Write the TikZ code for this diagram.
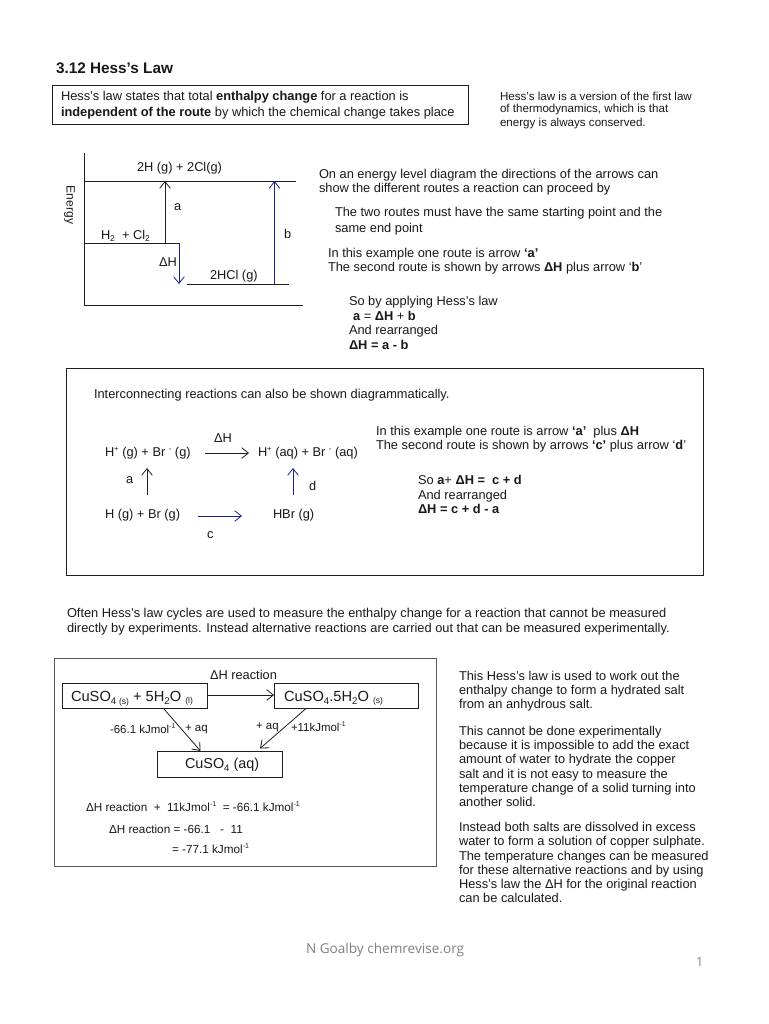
\documentclass[tikz,border=0pt]{standalone}
\usepackage{fontspec}
\setmainfont{Liberation Sans}
\newfontfamily\footfont{Open Sans}
\usetikzlibrary{arrows.meta}
\definecolor{navy}{RGB}{30,30,150}
\definecolor{lineblack}{RGB}{30,30,30}
\definecolor{txt}{RGB}{25,25,25}
\newcommand{\sz}[1]{\fontsize{#1}{#1}\selectfont}
\newcommand{\dH}{ΔH}
\newcommand{\lo}[1]{\raisebox{-0.22em}{\fontsize{0.66em}{0.66em}\selectfont #1}}
\newcommand{\hi}[1]{\raisebox{0.38em}{\fontsize{0.6em}{0.6em}\selectfont #1}}
\tikzset{
 px/.style={x=0.75pt,y=-0.75pt},
 t/.style={anchor=base west,inner sep=0pt,outer sep=0pt,text=txt,font=\sz{9.62}},
 ts/.style={t,font=\sz{8.7}},
 tm/.style={t,font=\sz{9.6}},
 ti/.style={t,font=\sz{8.6}},
 tq/.style={t,font=\sz{8.8}},
 lvl/.style={draw=lineblack,line width=0.7pt},
 arr/.style={draw=lineblack,line width=0.6pt,-{Straight Barb[length=5pt,width=8pt,line width=0.6pt]}},
 barr/.style={arr,draw=navy,line width=0.7pt},
 rect/.style={draw=lineblack,line width=0.75pt,inner sep=0pt,anchor=north west},
}
\begin{document}
\begin{tikzpicture}[px]
\useasboundingbox (0,0) rectangle (768,1024);
\fill[white] (0,0) rectangle (768,1024);
% heading
\node[t,font=\bfseries\sz{11.5}] (title) at (56,74) {3.12 Hess’s Law};
\node[rect,minimum width=416*0.75pt,minimum height=39*0.75pt] (defbox) at (52,85) {};
\node[t] (d1) at (61,100) {Hess’s law states that total \textbf{enthalpy change} for a reaction is};
\node[t] (d2) at (61,117) {\textbf{independent of the route} by which the chemical change takes place};
\node[ts] (s1) at (500,100) {Hess’s law is a version of the first law};
\node[ts] (s2) at (500,113) {of thermodynamics, which is that};
\node[ts] (s3) at (500,126) {energy is always conserved.};
% energy diagram
\coordinate (axT) at (84,153); \coordinate (axO) at (84,305); \coordinate (axR) at (303,305);
\draw[lvl] (axT) -- (axO) -- (axR);
\coordinate (topL) at (84,181); \coordinate (topR) at (296,181);
\draw[lvl] (topL) -- (topR);
\coordinate (midL) at (84,243); \coordinate (midR) at (179,243);
\draw[lvl] (midL) -- (midR);
\coordinate (lowL) at (187,284); \coordinate (lowR) at (289,284);
\draw[lvl] (lowL) -- (lowR);
\coordinate (aS) at (165,243); \coordinate (aE) at (165,181);
\draw[arr] (aS) -- (aE);
\coordinate (bS) at (274.5,284); \coordinate (bE) at (274.5,181);
\draw[barr] (bS) -- (bE);
\coordinate (dE) at (179,284);
\draw[barr] (midR) -- (dE);
\node[tm] (l1) at (137,171) {2H (g) + 2Cl(g)};
\node[tm] (la) at (174,210) {a};
\node[tm] (lb) at (284,238) {b};
\node[tm] (l2) at (101,239) {H\lo{2} \ + Cl\lo{2}};
\node[tm] (l3) at (159,266) {\dH};
\node[tm] (l4) at (210,279) {2HCl (g)};
\node[t,font=\sz{9},anchor=base,rotate=-90] (en) at (66.5,205) {Energy};
% energy text
\node[t] (e1) at (319,178) {On an energy level diagram the directions of the arrows can};
\node[t] (e2) at (319,192) {show the different routes a reaction can proceed by};
\node[t] (e3) at (335,216) {The two routes must have the same starting point and the};
\node[t] (e4) at (335,232) {same end point};
\node[t] (e5) at (328,257) {In this example one route is arrow \textbf{‘a’}};
\node[t] (e6) at (328,271) {The second route is shown by arrows \textbf{\dH} plus arrow ‘\textbf{b}’};
\node[t] (e7) at (349,305) {So by applying Hess’s law};
\node[t] (e8) at (353,320) {\textbf{a} = \textbf{\dH} + \textbf{b}};
\node[t] (e9) at (349,334) {And rearranged};
\node[t] (e10) at (349,349) {\textbf{\dH{} = a - b}};
% middle frame
\node[rect,minimum width=637*0.75pt,minimum height=207*0.75pt] (mid) at (66,368) {};
\node[t] (m1) at (94,398) {Interconnecting reactions can also be shown diagrammatically.};
\node[tm] (c1) at (105,456) {H\hi{+} (g) + Br \hi{-} (g)};
\node[tm] (c2) at (258,456) {H\hi{+} (aq) + Br \hi{-} (aq)};
\node[tm] (c3) at (105,518) {H (g) + Br (g)};
\node[tm] (c4) at (273,518) {HBr (g)};
\node[tm] (c5) at (214,442) {\dH};
\node[tm] (c6) at (126,483) {a};
\node[tm] (c7) at (309,490) {d};
\node[tm] (c8) at (207,538) {c};
\coordinate (h1s) at (205,453); \coordinate (h1e) at (249,453);
\draw[arr] (h1s) -- (h1e);
\coordinate (h2s) at (198,516); \coordinate (h2e) at (242,516);
\draw[barr] (h2s) -- (h2e);
\coordinate (v1s) at (147,495); \coordinate (v1e) at (147,468);
\draw[arr] (v1s) -- (v1e);
\coordinate (v2s) at (293,495); \coordinate (v2e) at (293,468);
\draw[barr] (v2s) -- (v2e);
\node[t] (m2) at (376,435) {In this example one route is arrow \textbf{‘a’} \ plus \textbf{\dH}};
\node[t] (m3) at (376,449) {The second route is shown by arrows \textbf{‘c’} plus arrow ‘\textbf{d}’};
\node[t] (m4) at (418,484) {So \textbf{a}+ \textbf{\dH{} = \ c + d}};
\node[t] (m5) at (418,499) {And rearranged};
\node[t] (m6) at (418,513) {\textbf{\dH{} = c + d - a}};
% paragraph
\node[t] (p1) at (67,617) {Often Hess’s law cycles are used to measure the enthalpy change for a reaction that cannot be measured};
\node[t] (p2) at (67,632) {directly by experiments. Instead alternative reactions are carried out that can be measured experimentally.};
% cycle frame
\node[rect,minimum width=382*0.75pt,minimum height=208*0.75pt,draw=black!65] (cyc) at (54,658) {};
\node[rect,minimum width=145*0.75pt,minimum height=25*0.75pt] (cu1) at (62,683) {};
\node[rect,minimum width=144*0.75pt,minimum height=25*0.75pt] (cu2) at (274,683) {};
\node[rect,minimum width=125*0.75pt,minimum height=26*0.75pt] (cu3) at (157,751) {};
\node[t,font=\sz{11}] (u1) at (71,701) {CuSO\lo{4 {\sz{6.4}(s)}} + 5H\lo{2}O {\sz{6.4}\raisebox{-2pt}{(l)}}};
\node[t,font=\sz{11}] (u2) at (284,701) {CuSO\lo{4}.5H\lo{2}O {\sz{6.4}\raisebox{-2pt}{(s)}}};
\node[t,font=\sz{10.8}] (u3) at (185,768) {CuSO\lo{4} (aq)};
\node[tm] (u4) at (210,679) {\dH{} reaction};
\coordinate (k1) at (207,695); \coordinate (k2) at (274,695);
\draw[arr] (k1) -- (k2);
\coordinate (k3) at (164,709); \coordinate (k4) at (200.5,751);
\draw[arr] (k3) -- (k4);
\coordinate (k5) at (305.5,709); \coordinate (k6) at (260,748.5);
\draw[arr] (k5) -- (k6);
\node[ti] (n1) at (110,733) {-66.1 kJmol\hi{-1}};
\node[ti] (n2) at (185,731) {+ aq};
\node[ti] (n3) at (256,729) {+ aq};
\node[ti] (n4) at (291,731) {+11kJmol\hi{-1}};
\node[tq] (q1) at (86,811) {\dH{} reaction \ + \ 11kJmol\hi{-1} \ = -66.1 kJmol\hi{-1}};
\node[tq] (q2) at (109,833) {\dH{} reaction = -66.1 \ \ - \ 11};
\node[tq] (q3) at (172,853) {= -77.1 kJmol\hi{-1}};
% right column
\node[t] (r1) at (459,680) {This Hess’s law is used to work out the};
\node[t] (r2) at (459,694) {enthalpy change to form a hydrated salt};
\node[t] (r3) at (459,708) {from an anhydrous salt.};
\node[t] (r4) at (459,735) {This cannot be done experimentally};
\node[t] (r5) at (459,749) {because it is impossible to add the exact};
\node[t] (r6) at (459,763) {amount of water to hydrate the copper};
\node[t] (r7) at (459,778) {salt and it is not easy to measure the};
\node[t] (r8) at (459,792) {temperature change of a solid turning into};
\node[t] (r9) at (459,806) {another solid.};
\node[t] (r10) at (459,831) {Instead both salts are dissolved in excess};
\node[t] (r11) at (459,845) {water to form a solution of copper sulphate.};
\node[t] (r12) at (459,860) {The temperature changes can be measured};
\node[t] (r13) at (459,874) {for these alternative reactions and by using};
\node[t] (r14) at (459,888) {Hess’s law the \dH{} for the original reaction};
\node[t] (r15) at (459,902) {can be calculated.};
% footer
\node[t,font=\footfont\sz{10.2},text=black!50] (f1) at (306,953) {N Goalby chemrevise.org};
\node[t,font=\footfont\sz{9.4},text=black!50] (f2) at (696,966) {1};
\end{tikzpicture}
\end{document}
